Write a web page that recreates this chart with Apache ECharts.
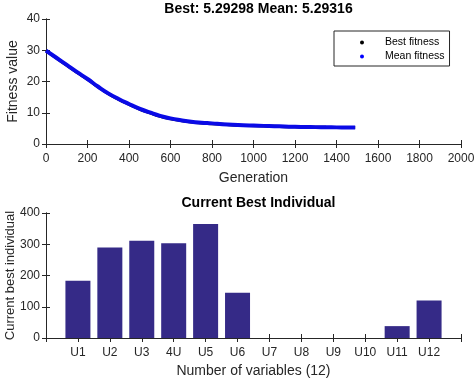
<!DOCTYPE html>
<html><head><meta charset="utf-8">
<script src="https://cdn.jsdelivr.net/npm/echarts@6/dist/echarts.min.js"></script>
<style>html,body{margin:0;padding:0;background:#fff}#c{width:474px;height:381px}</style>
</head><body><div id="c"></div>
<script>
// Top plot data
var generations = [0,50,100,150,200,250,300,350,400,450,500,550,600,650,700,750,800,850,900,950,1000,1050,1100,1150,1200,1250,1300,1350,1400,1450,1490];
var meanFitness = [29.9,27.6,25.3,23.0,20.8,18.4,16.2,14.4,12.8,11.3,10.1,9.0,8.2,7.6,7.1,6.8,6.6,6.35,6.15,6.0,5.9,5.8,5.7,5.6,5.5,5.45,5.4,5.35,5.32,5.3,5.29];
var bestFitness = [29.8,27.5,25.2,22.9,20.7,18.3,16.1,14.3,12.7,11.2,10.0,8.9,8.1,7.5,7.0,6.7,6.5,6.3,6.1,5.95,5.85,5.75,5.65,5.55,5.48,5.42,5.38,5.33,5.31,5.3,5.29];
var genTicks = [0,200,400,600,800,1000,1200,1400,1600,1800,2000];
var fitTicks = [0,10,20,30,40];
// Bottom plot data
var variables = ['U1','U2','U3','4U','U5','U6','U7','U8','U9','U10','U11','U12'];
var bestIndividual = [183,290,311,303,365,145,0,0,0,0,38,120];
var indTicks = [0,100,200,300,400];

var FONT = 'Liberation Sans, Arial, sans-serif';
var AX = '#262626';
function lin(){return {show:true,lineStyle:{color:AX,width:1}};}
function tick(){return {inside:true,length:4,lineStyle:{color:AX}};}
var chart = echarts.init(document.getElementById('c'), null, {renderer:'canvas'});
var opt = {
  animation:false,
  textStyle:{fontFamily:FONT},
  title:[
    {text:'Best: 5.29298 Mean: 5.29316', left:253.5, top:-3, textAlign:'center',
     textStyle:{fontFamily:FONT,fontSize:14,fontWeight:'bold',color:'#000'}},
    {text:'Current Best Individual', left:253.5, top:191, textAlign:'center',
     textStyle:{fontFamily:FONT,fontSize:14,fontWeight:'bold',color:'#000'}}
  ],
  legend:{
    left:334, top:31, orient:'vertical', icon:'circle', itemWidth:4, itemHeight:4,
    itemGap:3, padding:[6,5,4,26], borderColor:'#262626', borderWidth:1, backgroundColor:'#fff',
    textStyle:{fontFamily:FONT,fontSize:10.5,color:'#000',padding:[0,0,0,16]},
    data:['Best fitness','Mean fitness']
  },
  grid:[
    {left:46,right:13,top:19,height:125,outerBoundsMode:'none',containLabel:false},
    {left:46,right:13,top:213,height:125,outerBoundsMode:'none',containLabel:false}
  ],
  xAxis:[
    {gridIndex:0,type:'value',min:genTicks[0],max:genTicks[genTicks.length-1],interval:genTicks[1]-genTicks[0],
     axisLine:lin(),axisTick:tick(),splitLine:{show:false},
     axisLabel:{color:AX,fontSize:12,margin:9,fontFamily:FONT,formatter:function(v){return String(v);}},
     name:'Generation',nameLocation:'middle',nameGap:27,nameMoveOverlap:false,nameTextStyle:{fontSize:14,color:AX,fontFamily:FONT}},
    {gridIndex:0,type:'value',position:'top',min:genTicks[0],max:genTicks[genTicks.length-1],interval:genTicks[1]-genTicks[0],
     axisLine:lin(),axisTick:tick(),splitLine:{show:false},axisLabel:{show:false}},
    {gridIndex:1,type:'value',min:0,max:variables.length+1,interval:1,
     axisLine:lin(),axisTick:tick(),splitLine:{show:false},
     axisLabel:{color:AX,fontSize:12,margin:9,fontFamily:FONT,formatter:function(v){return (v>=1&&v<=variables.length)?variables[v-1]:'';}},
     name:'Number of variables (12)',nameLocation:'middle',nameGap:26,nameMoveOverlap:false,nameTextStyle:{fontSize:14,color:AX,fontFamily:FONT}},
    {gridIndex:1,type:'value',position:'top',min:0,max:variables.length+1,interval:1,
     axisLine:lin(),axisTick:tick(),splitLine:{show:false},axisLabel:{show:false}}
  ],
  yAxis:[
    {gridIndex:0,type:'value',min:fitTicks[0],max:fitTicks[fitTicks.length-1],interval:fitTicks[1]-fitTicks[0],
     axisLine:lin(),axisTick:tick(),splitLine:{show:false},
     axisLabel:{color:AX,fontSize:12,margin:6,fontFamily:FONT},
     name:'Fitness value',nameLocation:'middle',nameGap:26,nameMoveOverlap:false,nameTextStyle:{fontSize:14,color:AX,fontFamily:FONT}},
    {gridIndex:0,type:'value',position:'right',min:fitTicks[0],max:fitTicks[fitTicks.length-1],interval:fitTicks[1]-fitTicks[0],
     axisLine:lin(),axisTick:tick(),splitLine:{show:false},axisLabel:{show:false}},
    {gridIndex:1,type:'value',min:indTicks[0],max:indTicks[indTicks.length-1],interval:indTicks[1]-indTicks[0],
     axisLine:lin(),axisTick:tick(),splitLine:{show:false},
     axisLabel:{color:AX,fontSize:12,margin:6,fontFamily:FONT},
     name:'Current best individual',nameLocation:'middle',nameGap:29,nameMoveOverlap:false,nameTextStyle:{fontSize:13,color:AX,fontFamily:FONT}},
    {gridIndex:1,type:'value',position:'right',min:indTicks[0],max:indTicks[indTicks.length-1],interval:indTicks[1]-indTicks[0],
     axisLine:lin(),axisTick:tick(),splitLine:{show:false},axisLabel:{show:false}}
  ],
  series:[
    {name:'Best fitness',type:'line',xAxisIndex:0,yAxisIndex:0,smooth:true,symbol:'none',
     itemStyle:{color:'#000'},lineStyle:{color:'#000',width:3},
     data:generations.map(function(g,i){return [g,bestFitness[i]];})},
    {name:'Mean fitness',type:'line',xAxisIndex:0,yAxisIndex:0,smooth:true,symbol:'none',
     itemStyle:{color:'#0000ff'},lineStyle:{color:'#0a0ae6',width:4},
     data:generations.map(function(g,i){return [g,meanFitness[i]];})},
    {name:'bars',type:'bar',xAxisIndex:2,yAxisIndex:2,barWidth:25,
     itemStyle:{color:'#352a87'},
     data:bestIndividual.map(function(v,i){return [i+1,v];})}
  ]
};
chart.setOption(opt);
</script></body></html>
